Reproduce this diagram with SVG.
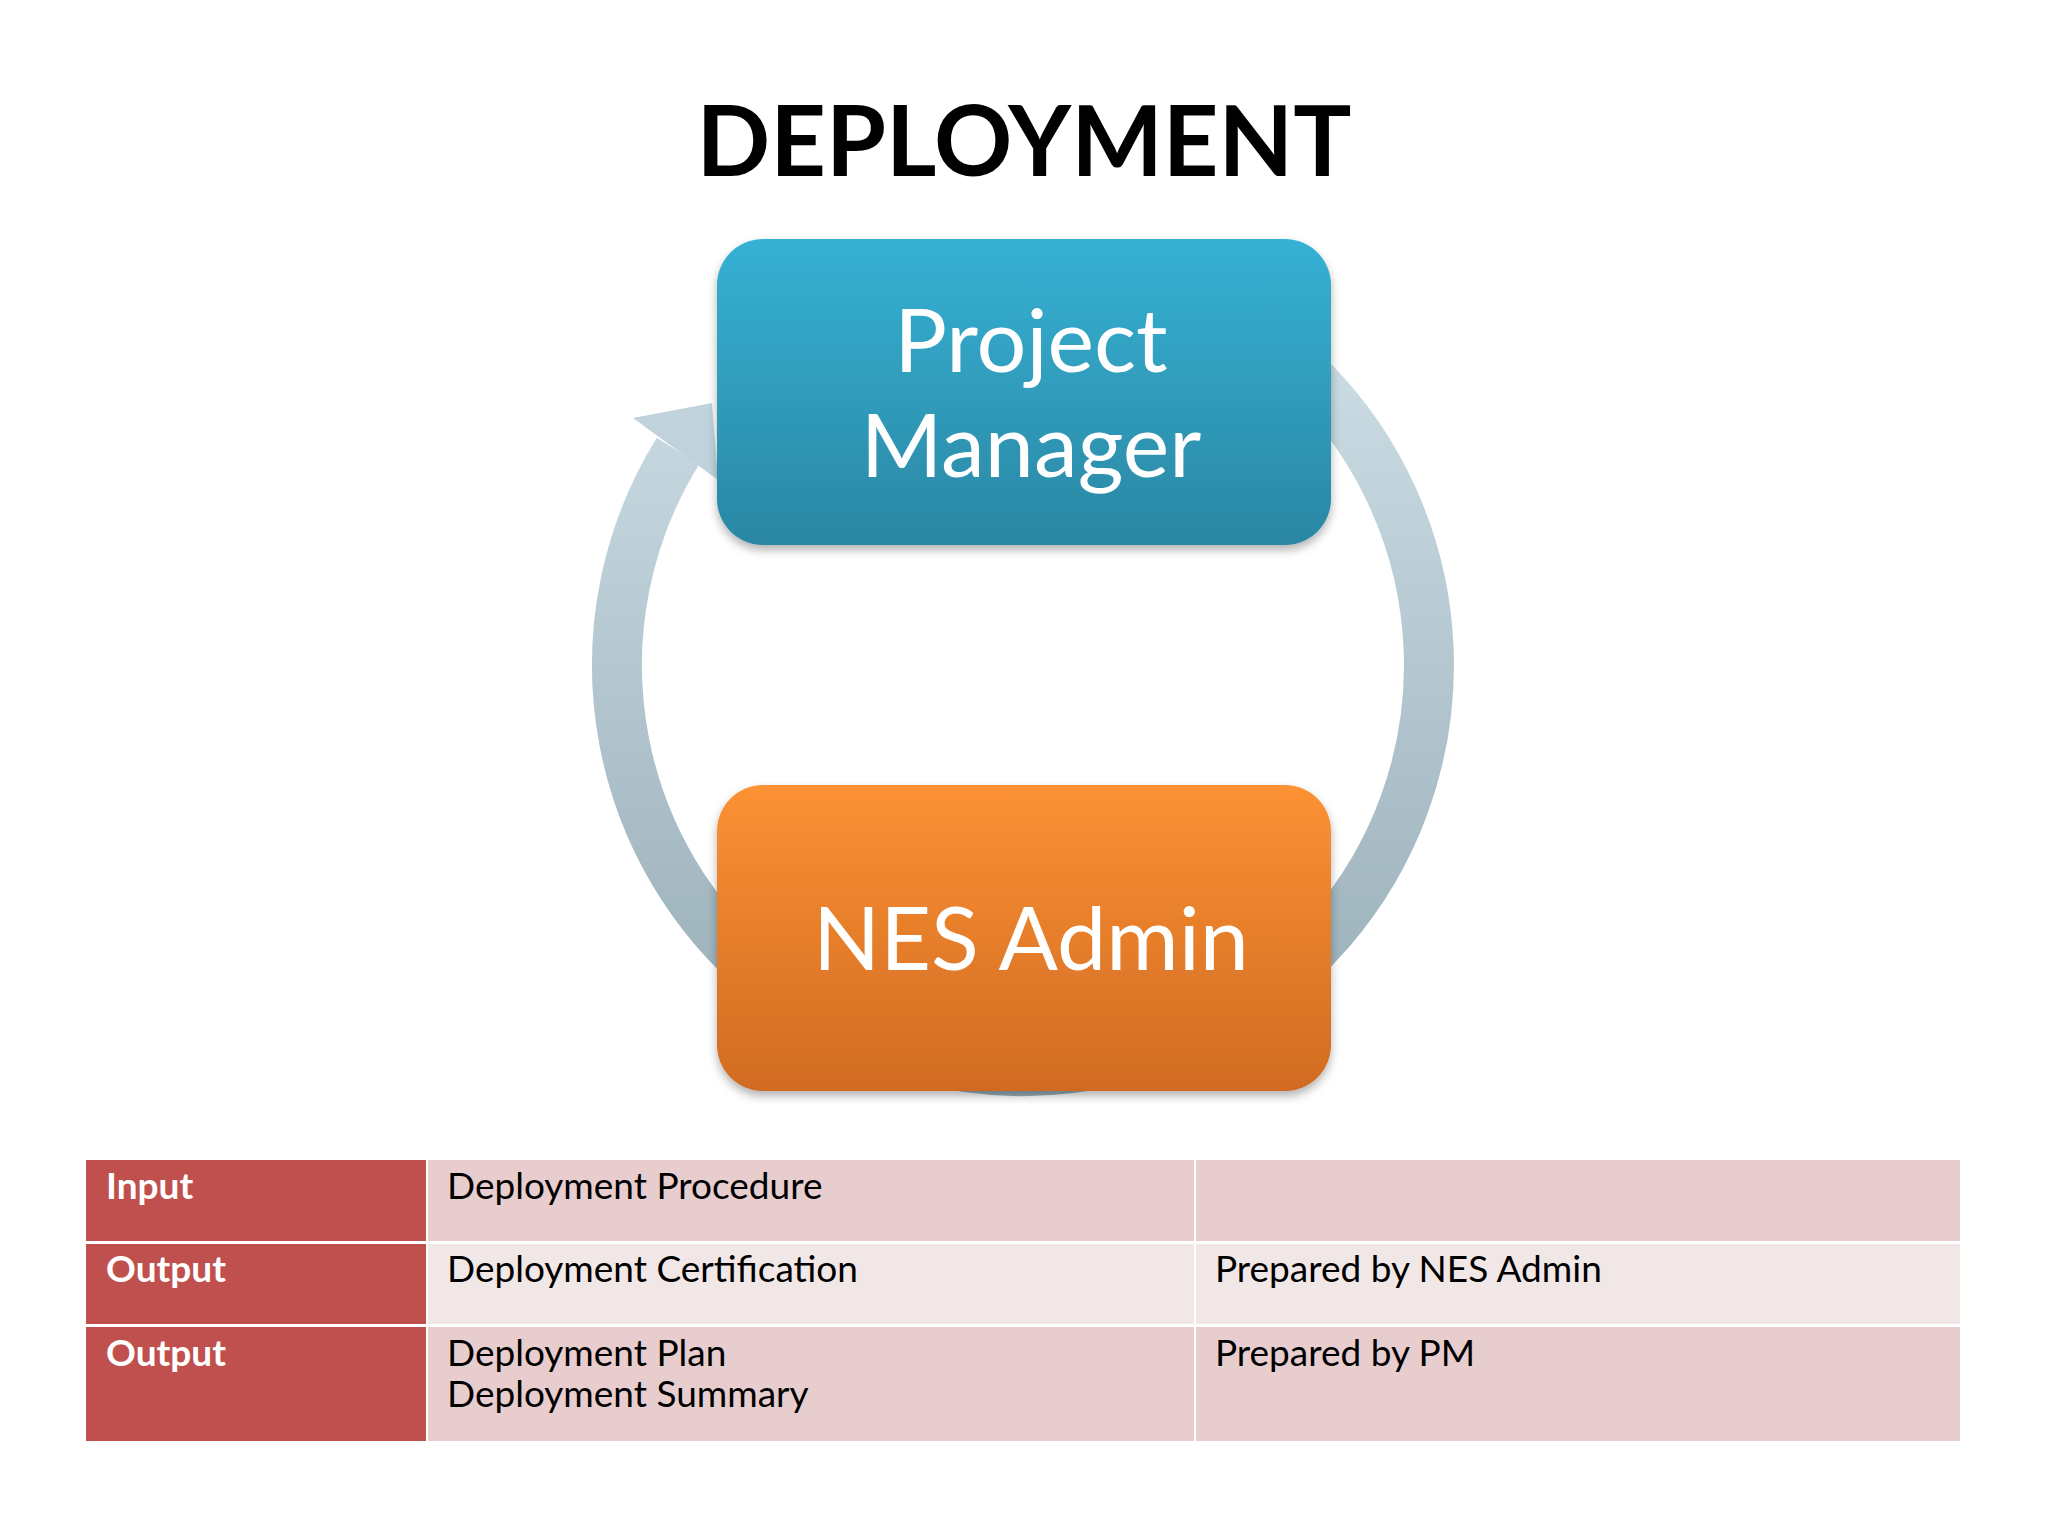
<svg xmlns="http://www.w3.org/2000/svg" width="2048" height="1536" viewBox="0 0 2048 1536">
<defs>
<linearGradient id="ring" x1="0" y1="0" x2="0" y2="1"><stop offset="0" stop-color="#c9dae2"/><stop offset="1" stop-color="#98adb7"/></linearGradient>
<linearGradient id="blue" x1="0" y1="0" x2="0" y2="1"><stop offset="0" stop-color="#36b1d4"/><stop offset="1" stop-color="#2a87a3"/></linearGradient>
<linearGradient id="orange" x1="0" y1="0" x2="0" y2="1"><stop offset="0" stop-color="#fc9134"/><stop offset="1" stop-color="#d06b22"/></linearGradient>
<filter id="sh" x="-10%" y="-10%" width="120%" height="130%"><feDropShadow dx="0" dy="5" stdDeviation="5" flood-opacity="0.3"/></filter>
</defs>
<style>
.t{font-family:Lato,"Liberation Sans",sans-serif;}
.box{font-family:Lato,"Liberation Sans",sans-serif;font-size:88px;fill:#fff;text-anchor:middle;}
.cell{font-family:Lato,"Liberation Sans",sans-serif;font-size:37px;fill:#000;}
.hd{font-family:Lato,"Liberation Sans",sans-serif;font-size:37px;fill:#fff;font-weight:bold;}
</style>
<rect width="2048" height="1536" fill="#fff"/>
<text class="t" x="1024" y="176" font-size="97" font-weight="bold" text-anchor="middle">DEPLOYMENT</text>
<g id="connectors">
<path d="M1311,379 A406,406 0 1 1 678,451" fill="none" stroke="url(#ring)" stroke-width="50"/>
<polygon points="633,418 712,403 718,480" fill="#c0d3dc"/>
</g>
<g id="pm">
<rect x="717" y="239" width="614" height="306" rx="46" fill="url(#blue)" filter="url(#sh)"/>
<text class="box" x="1031" y="372">Project</text>
<text class="box" x="1031" y="477">Manager</text>
</g>
<g id="nes">
<rect x="717" y="785" width="614" height="306" rx="46" fill="url(#orange)" filter="url(#sh)"/>
<text class="box" x="1031" y="970">NES Admin</text>
</g>
<g id="table">
<rect x="86" y="1160" width="340" height="281" fill="#c0504d"/>
<rect x="428" y="1160" width="766" height="81" fill="#e8cdce"/>
<rect x="1196" y="1160" width="764" height="81" fill="#e8cdce"/>
<rect x="428" y="1244" width="766" height="80" fill="#f2e7e7"/>
<rect x="1196" y="1244" width="764" height="80" fill="#f2e7e7"/>
<rect x="428" y="1327" width="766" height="114" fill="#e8cdce"/>
<rect x="1196" y="1327" width="764" height="114" fill="#e8cdce"/>
<rect x="86" y="1241" width="1874" height="3" fill="#fff"/>
<rect x="86" y="1324" width="1874" height="3" fill="#fff"/>
<text class="hd" x="106" y="1199">Input</text>
<text class="hd" x="106" y="1282">Output</text>
<text class="hd" x="106" y="1366">Output</text>
<text class="cell" x="447" y="1199">Deployment Procedure</text>
<text class="cell" x="447" y="1282">Deployment Certification</text>
<text class="cell" x="1215" y="1282">Prepared by NES Admin</text>
<text class="cell" x="447" y="1366">Deployment Plan</text>
<text class="cell" x="447" y="1407">Deployment Summary</text>
<text class="cell" x="1215" y="1366">Prepared by PM</text>
</g>
</svg>
